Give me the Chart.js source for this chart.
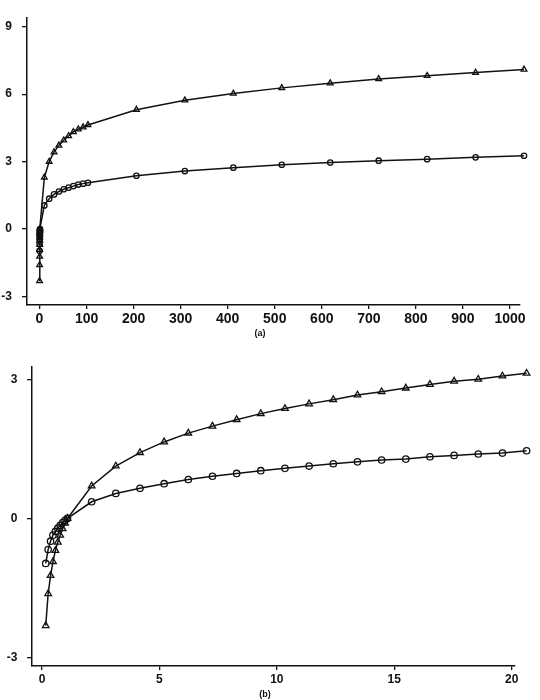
<!DOCTYPE html>
<html>
<head>
<meta charset="utf-8">
<script src="https://cdn.jsdelivr.net/npm/chart.js@4.4.1/dist/chart.umd.min.js"></script>
<style>
  html, body { margin: 0; padding: 0; background: #fff; }
  #page { position: relative; width: 540px; height: 700px; overflow: hidden; }
  canvas { position: absolute; left: 0; }
  .caption {
    position: absolute;
    font: bold 9px "Liberation Sans", Arial, sans-serif;
    color: #111;
    transform: translate(-50%, -50%);
  }
</style>
</head>
<body>
<div id="page">
  <canvas id="chartA" width="540" height="345" style="top:0"></canvas>
  <canvas id="chartB" width="540" height="355" style="top:345px"></canvas>
  <div class="caption" style="left:260px;top:333px">(a)</div>
  <div class="caption" style="left:265px;top:694px">(b)</div>
</div>
<script>
// Panel (a): x from 0.1 to 1000
const xA = [0.1, 0.2, 0.3, 0.4, 0.5, 0.6, 0.7, 0.8, 0.9, 1,
  10, 20, 30, 40, 50, 60, 70, 80, 90, 100,
  200, 300, 400, 500, 600, 700, 800, 900, 1000];
const triA = [-2.31, -1.60, -1.22, -0.92, -0.70, -0.51, -0.36, -0.22, -0.10, 0,
  2.30, 3.00, 3.42, 3.72, 3.95, 4.14, 4.32, 4.44, 4.53, 4.63,
  5.31, 5.73, 6.03, 6.28, 6.49, 6.68, 6.82, 6.96, 7.10];
const circA = [-0.97, -0.67, -0.49, -0.36, -0.28, -0.21, -0.15, -0.09, -0.04, 0,
  1.05, 1.35, 1.54, 1.67, 1.77, 1.84, 1.91, 1.98, 2.02, 2.06,
  2.37, 2.58, 2.73, 2.86, 2.96, 3.04, 3.11, 3.19, 3.26];
const xTicksA = [0, 100, 200, 300, 400, 500, 600, 700, 800, 900, 1000];
const yTicksA = [-3, 0, 3, 6, 9];

// Panel (b): x from 0.1 to 20
const xB = [0.1, 0.2, 0.3, 0.4, 0.5, 0.6, 0.7, 0.8, 0.9, 1,
  2, 3, 4, 5, 6, 7, 8, 9, 10, 11, 12, 13, 14, 15, 16, 17, 18, 19, 20];
const triB = [-2.31, -1.62, -1.23, -0.93, -0.69, -0.51, -0.36, -0.22, -0.10, 0,
  0.70, 1.13, 1.42, 1.65, 1.84, 1.99, 2.13, 2.26, 2.37, 2.47,
  2.56, 2.66, 2.73, 2.81, 2.89, 2.96, 3.00, 3.07, 3.13];
const circB = [-0.97, -0.67, -0.49, -0.36, -0.28, -0.21, -0.15, -0.09, -0.04, 0,
  0.36, 0.54, 0.65, 0.75, 0.84, 0.91, 0.97, 1.03, 1.08, 1.13,
  1.18, 1.22, 1.26, 1.28, 1.33, 1.36, 1.39, 1.41, 1.46];
const xTicksB = [0, 5, 10, 15, 20];
const yTicksB = [-3, 0, 3];

const INK = "#111";

function series(xs, ys) {
  return xs.map((x, i) => ({ x, y: ys[i] }));
}

function lineSet(data, style, radius) {
  return {
    data,
    xAxisID: "xd",
    borderColor: INK,
    borderWidth: 1.5,
    tension: 0,
    pointStyle: style,
    pointRadius: radius,
    // large hover radius widens the margin so the last point past the axis end is still drawn
    pointHoverRadius: 16,
    pointBorderColor: INK,
    pointBackgroundColor: "rgba(255,255,255,0)",
    pointBorderWidth: 1.3,
    clip: false,
  };
}

function fixedTicks(values) {
  return (scale) => {
    scale.ticks = values.map((v) => ({ value: v }));
  };
}

function makeChart(id, cfg) {
  new Chart(document.getElementById(id), {
    type: "line",
    data: {
      datasets: [
        lineSet(series(cfg.xs, cfg.tri), "triangle", cfg.triRadius),
        lineSet(series(cfg.xs, cfg.circ), "circle", cfg.circRadius),
      ],
    },
    options: {
      responsive: false,
      animation: false,
      events: [],
      layout: { padding: cfg.padding },
      plugins: { legend: { display: false }, tooltip: { enabled: false } },
      scales: {
        // visible axis carrying the printed tick marks
        x: {
          type: "linear",
          position: "bottom",
          min: cfg.xRange[0],
          max: cfg.xRange[1],
          afterBuildTicks: fixedTicks(cfg.xTicks),
          afterFit: (s) => { s.height = cfg.xAxisHeight; },
          border: { display: true, color: INK, width: 1.5 },
          grid: { drawOnChartArea: false, drawTicks: true, tickLength: 4, color: INK, lineWidth: 1.3 },
          ticks: {
            color: INK,
            padding: 2,
            maxRotation: 0,
            autoSkip: false,
            font: { family: "'Liberation Sans', Arial, sans-serif", size: cfg.xFont, weight: "bold" },
            callback: (v) => String(v),
          },
        },
        // hidden axis the data is plotted against
        xd: {
          type: "linear",
          position: "bottom",
          display: false,
          min: cfg.dataRange[0],
          max: cfg.dataRange[1],
        },
        y: {
          type: "linear",
          min: cfg.yRange[0],
          max: cfg.yRange[1],
          afterBuildTicks: fixedTicks(cfg.yTicks),
          afterFit: (s) => { s.width = cfg.yAxisWidth; },
          border: { display: true, color: INK, width: 1.5 },
          grid: { drawOnChartArea: false, drawTicks: true, tickLength: 5, color: INK, lineWidth: 1.3 },
          ticks: {
            color: INK,
            padding: cfg.yPad,
            font: { family: "'Liberation Sans', Arial, sans-serif", size: 12, weight: "bold" },
            callback: (v) => String(v),
          },
        },
      },
    },
  });
}

makeChart("chartA", {
  xs: xA, tri: triA, circ: circA,
  xTicks: xTicksA, yTicks: yTicksA,
  xRange: [-26.6, 1021.3],
  dataRange: [-25.8, 991.7],
  yRange: [-3.38, 9.42],
  padding: { left: 0, top: 0, right: 20, bottom: 0 },
  yAxisWidth: 27, xAxisHeight: 40, yPad: 10, xFont: 14,
  triRadius: 3.3, circRadius: 2.7,
});

makeChart("chartB", {
  xs: xB, tri: triB, circ: circB,
  xTicks: xTicksB, yTicks: yTicksB,
  xRange: [-0.426, 20.14],
  dataRange: [-0.468, 19.52],
  yRange: [-3.18, 3.265],
  padding: { left: 0, top: 22, right: 25, bottom: 0 },
  yAxisWidth: 32, xAxisHeight: 34, yPad: 9.5, xFont: 12,
  triRadius: 3.8, circRadius: 3.2,
});
</script>
</body>
</html>
